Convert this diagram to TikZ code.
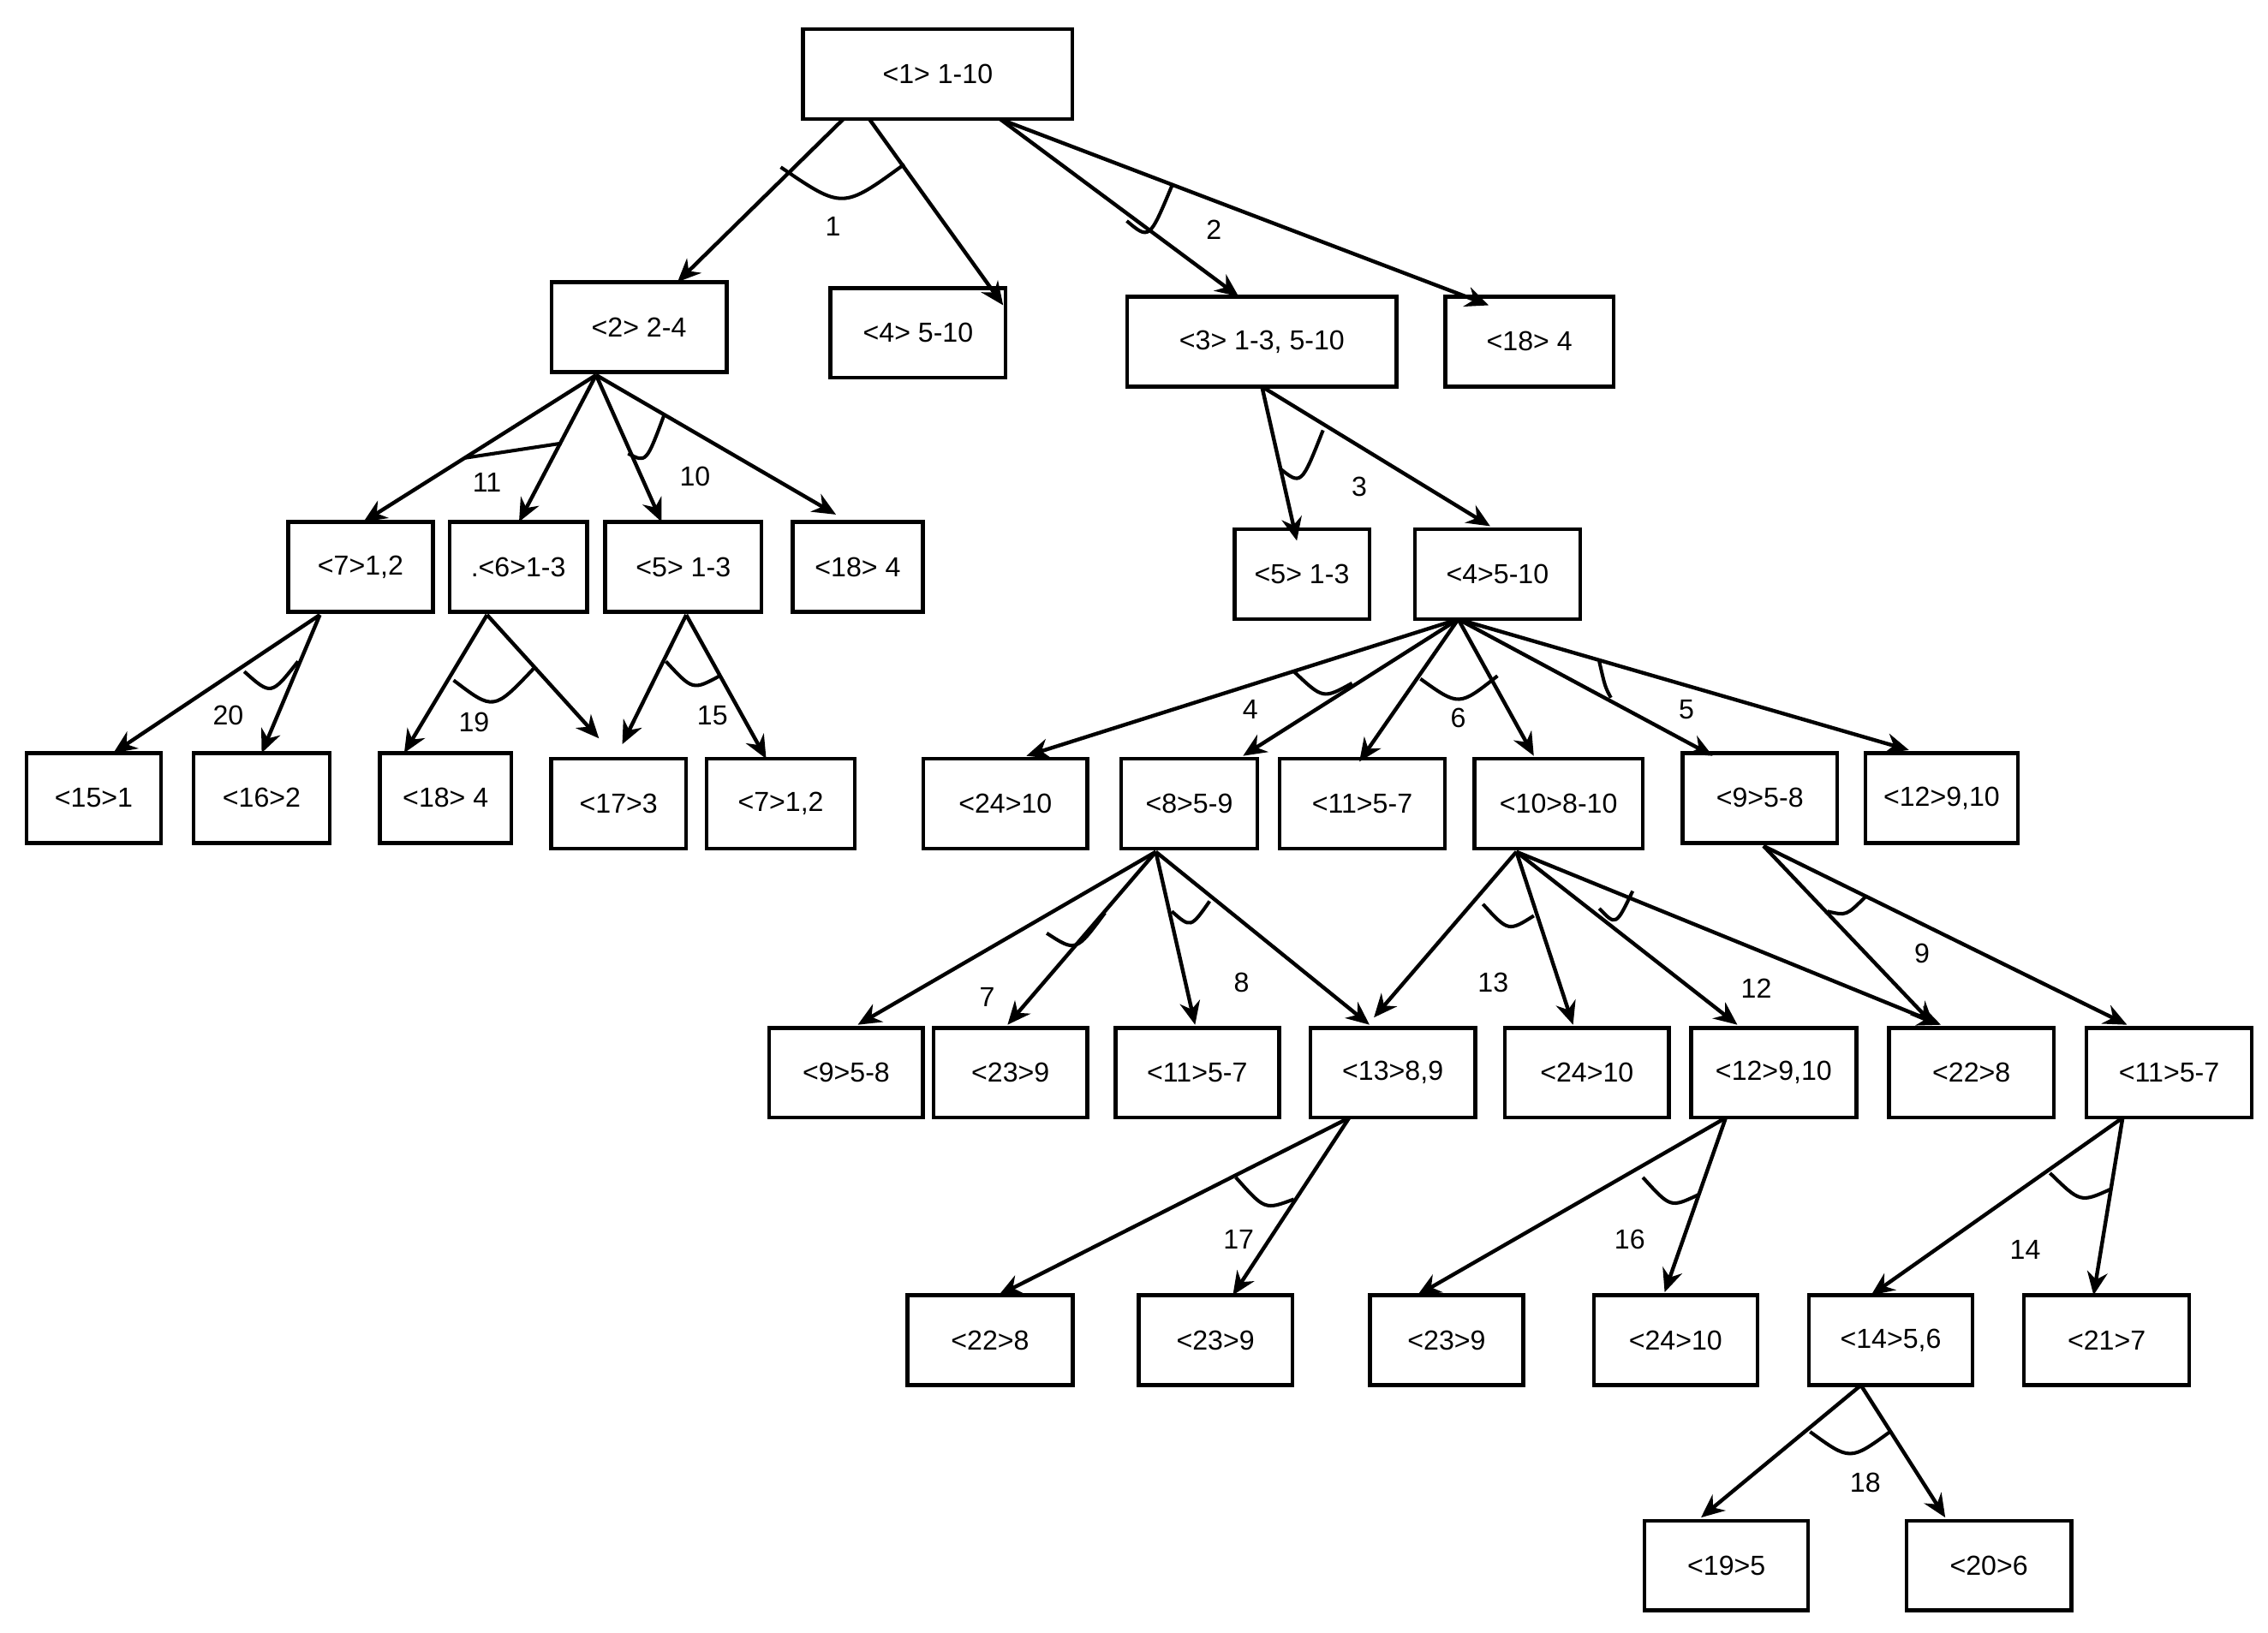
\documentclass[tikz,border=0pt]{standalone}
\usepackage{fontspec}
\setmainfont{Liberation Sans}
\usetikzlibrary{arrows.meta}
\begin{document}
\begin{tikzpicture}[x=1bp,y=-1bp,
  bx/.style={draw,line width=2.6bp,inner sep=0pt,font=\fontsize{19}{22}\selectfont},
  ar/.style={line width=2.6bp,-{Stealth[length=16bp,width=14bp]}},
  andarc/.style={line width=2.4bp},
  lb/.style={font=\fontsize{19}{22}\selectfont}]
\useasboundingbox (0,0) rectangle (1560,1123);
\newcommand\bxx[6]{\node[bx,minimum width={#4-#2},minimum height={#5-#3}] (#1) at ({(#2+#4)/2},{(#3+#5)/2}) {#6};}
\bxx{n1}{552}{20}{738}{82}{<1> 1-10}
\bxx{n2}{379}{194}{500}{256}{<2> 2-4}
\bxx{n4a}{571}{198}{692}{260}{<4> 5-10}
\bxx{n3}{775}{204}{961}{266}{<3> 1-3, 5-10}
\bxx{n18a}{994}{204}{1110}{266}{<18> 4}
\bxx{n7a}{198}{359}{298}{421}{<7>1,2}
\bxx{n6}{309}{359}{404}{421}{.<6>1-3}
\bxx{n5a}{416}{359}{524}{421}{<5> 1-3}
\bxx{n18b}{545}{359}{635}{421}{<18> 4}
\bxx{n5b}{849}{364}{942}{426}{<5> 1-3}
\bxx{n4b}{973}{364}{1087}{426}{<4>5-10}
\bxx{n15}{18}{518}{111}{580}{<15>1}
\bxx{n16}{133}{518}{227}{580}{<16>2}
\bxx{n18c}{261}{518}{352}{580}{<18> 4}
\bxx{n17}{379}{522}{472}{584}{<17>3}
\bxx{n7b}{486}{522}{588}{584}{<7>1,2}
\bxx{n24a}{635}{522}{748}{584}{<24>10}
\bxx{n8}{771}{522}{865}{584}{<8>5-9}
\bxx{n11a}{880}{522}{994}{584}{<11>5-7}
\bxx{n10}{1014}{522}{1130}{584}{<10>8-10}
\bxx{n9a}{1157}{518}{1264}{580}{<9>5-8}
\bxx{n12a}{1283}{518}{1388}{580}{<12>9,10}
\bxx{n9b}{529}{707}{635}{769}{<9>5-8}
\bxx{n23a}{642}{707}{748}{769}{<23>9}
\bxx{n11b}{767}{707}{880}{769}{<11>5-7}
\bxx{n13}{901}{707}{1015}{769}{<13>8,9}
\bxx{n24b}{1035}{707}{1148}{769}{<24>10}
\bxx{n12b}{1163}{707}{1277}{769}{<12>9,10}
\bxx{n22a}{1299}{707}{1413}{769}{<22>8}
\bxx{n11c}{1435}{707}{1549}{769}{<11>5-7}
\bxx{n22b}{624}{891}{738}{953}{<22>8}
\bxx{n23b}{783}{891}{889}{953}{<23>9}
\bxx{n23c}{942}{891}{1048}{953}{<23>9}
\bxx{n24c}{1096}{891}{1209}{953}{<24>10}
\bxx{n14}{1244}{891}{1357}{953}{<14>5,6}
\bxx{n21}{1392}{891}{1506}{953}{<21>7}
\bxx{n19}{1131}{1046}{1244}{1108}{<19>5}
\bxx{n20}{1311}{1046}{1425}{1108}{<20>6}
\newcommand\ed[4]{\draw[ar] (#1,#2) -- (#3,#4);}
\newcommand\ac[5]{\draw[andarc] (#1,#2) .. controls ({(#1+#3)/2},{(#2+#4)/2+#5}) .. (#3,#4);}
% root
\ed{580}{82}{466}{194}\ed{598}{82}{690}{210}\ed{688}{82}{852}{204}\ed{688}{82}{1024}{210}
\ac{537}{115}{622}{113}{30}\node[lb] at (573,156){1};
\ac{775}{152}{806}{128}{25}\node[lb] at (835,158){2};
% n2
\ed{410}{258}{250}{359}\ed{410}{258}{357}{359}\ed{410}{258}{455}{359}\ed{410}{258}{575}{354}
\ac{320}{315}{386}{305}{0}\node[lb] at (335,332){11};
\ac{432}{312}{457}{285}{20}\node[lb] at (478,328){10};
% n3
\ed{868}{266}{892}{372}\ed{868}{266}{1025}{362}
\ac{880}{322}{910}{296}{25}\node[lb] at (935,335){3};
% n7a
\ed{220}{423}{78}{518}\ed{220}{423}{180}{518}
\ac{168}{462}{205}{455}{20}\node[lb] at (157,492){20};
% n6
\ed{335}{423}{278}{518}\ed{335}{423}{412}{508}
\ac{312}{468}{367}{460}{25}\node[lb] at (326,497){19};
% n5a
\ed{472}{423}{428}{512}\ed{472}{423}{527}{522}
\ac{458}{455}{495}{465}{15}\node[lb] at (490,492){15};
% n4b
\ed{1003}{426}{706}{520}\ed{1003}{426}{855}{520}\ed{1003}{426}{935}{524}
\ed{1003}{426}{1055}{520}\ed{1003}{426}{1178}{520}\ed{1003}{426}{1313}{516}
\ac{890}{462}{930}{470}{15}\node[lb] at (860,488){4};
\ac{977}{467}{1030}{465}{20}\node[lb] at (1003,494){6};
\ac{1100}{455}{1108}{480}{5}\node[lb] at (1160,488){5};
% n8
\ed{795}{586}{590}{705}\ed{795}{586}{693}{705}\ed{795}{586}{822}{705}\ed{795}{586}{942}{705}
\ac{720}{642}{760}{628}{20}\node[lb] at (679,686){7};
\ac{806}{627}{832}{620}{15}\node[lb] at (854,676){8};
% n10
\ed{1043}{586}{945}{700}\ed{1043}{586}{1082}{705}\ed{1043}{586}{1195}{705}\ed{1043}{586}{1335}{705}
\ac{1020}{622}{1055}{630}{15}\node[lb] at (1027,676){13};
\ac{1100}{625}{1123}{613}{18}\node[lb] at (1208,680){12};
% n9a
\ed{1213}{582}{1330}{705}\ed{1213}{582}{1463}{705}
\ac{1257}{627}{1283}{617}{8}\node[lb] at (1322,656){9};
% n13
\ed{928}{769}{687}{891}\ed{928}{769}{848}{891}
\ac{850}{810}{890}{825}{15}\node[lb] at (852,853){17};
% n12b
\ed{1187}{769}{975}{891}\ed{1187}{769}{1145}{889}
\ac{1130}{810}{1168}{822}{15}\node[lb] at (1121,853){16};
% n11c
\ed{1460}{769}{1287}{891}\ed{1460}{769}{1440}{891}
\ac{1410}{807}{1452}{818}{15}\node[lb] at (1393,860){14};
% n14
\ed{1280}{953}{1170}{1044}\ed{1280}{953}{1338}{1044}
\ac{1245}{985}{1300}{985}{20}\node[lb] at (1283,1020){18};
\end{tikzpicture}
\end{document}
